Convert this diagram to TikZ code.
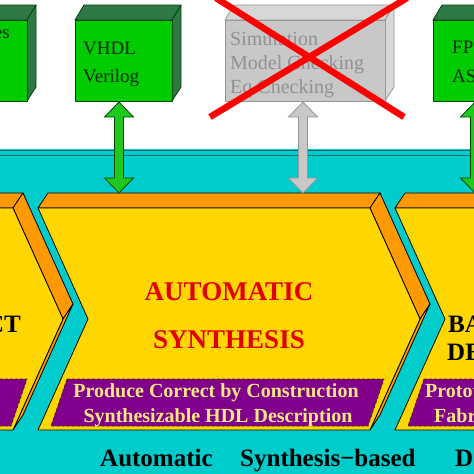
\documentclass[tikz,border=0pt]{standalone}
\usepackage{fontspec}
\setmainfont{Liberation Serif}
\definecolor{cyanbg}{RGB}{0,204,204}
\definecolor{bandline}{RGB}{0,110,110}
\definecolor{orangec}{RGB}{255,153,0}
\definecolor{yellowc}{RGB}{255,214,0}
\definecolor{purplec}{RGB}{128,0,140}
\definecolor{ptext}{RGB}{255,232,130}
\definecolor{gfront}{RGB}{0,204,0}
\definecolor{gdark}{RGB}{46,120,70}
\definecolor{gline}{RGB}{0,70,0}
\definecolor{grayfront}{RGB}{200,200,200}
\definecolor{graytop}{RGB}{215,215,215}
\definecolor{grayline}{RGB}{150,150,150}
\definecolor{graytext}{RGB}{145,145,145}
\definecolor{redx}{RGB}{255,0,0}
\definecolor{redlabel}{RGB}{225,0,0}
\definecolor{arrowgreen}{RGB}{30,200,30}
\definecolor{boxtext}{RGB}{0,40,0}
\newcommand{\dblarrow}[4]{%
  \draw[#4] (#1,#2) -- (#1+14.5,#2+15) -- (#1+4.5,#2+15) -- (#1+4.5,#3-15)
    -- (#1+14.5,#3-15) -- (#1,#3) -- (#1-14.5,#3-15) -- (#1-4.5,#3-15)
    -- (#1-4.5,#2+15) -- (#1-14.5,#2+15) -- cycle;}
\newcommand{\chevshape}[1]{%
  \begin{scope}[shift={(#1,0)}]
    \draw[orangeface] (38,208) -- (370,208) -- (380,193) -- (48,193) -- cycle;
    \draw[orangeface] (370,208) -- (420,319) -- (430,304) -- (380,193) -- cycle;
    \draw[orangeface] (420,319) -- (370,430) -- (380,415) -- (430,304) -- cycle;
    \draw[yellowface] (38,208) -- (370,208) -- (420,319) -- (370,430) -- (38,430) -- (88,319) -- cycle;
    \fill[purplec] (67,379) -- (384,379) -- (368,426) -- (51,426) -- cycle;
    \draw[purpleborder] (67,379) -- (384,379) -- (368,426) -- (51,426) -- cycle;
  \end{scope}}
\tikzset{
  orangeface/.style={fill=orangec, draw=black, line width=0.8, line join=round},
  yellowface/.style={fill=yellowc, draw=black, line width=0.8, line join=round},
  purpleborder/.style={draw=black!70!orange, line width=0.7, dash pattern=on 3pt off 2pt},
  gfrontst/.style={fill=gfront, draw=gline, line width=0.8, line join=round},
  gdarkst/.style={fill=gdark, draw=gline, line width=0.8, line join=round},
  grfrontst/.style={fill=grayfront, draw=grayline, line width=0.8, line join=round},
  grtopst/.style={fill=graytop, draw=grayline, line width=0.8, line join=round},
  boxlabel/.style={inner sep=0, anchor=base west, text=boxtext, font=\fontsize{19}{19}\selectfont},
  graylabel/.style={inner sep=0, anchor=base west, text=graytext, font=\fontsize{20}{20}\selectfont},
  biglabel/.style={inner sep=0, anchor=base, text=redlabel, font=\fontsize{27}{27}\selectfont\bfseries},
  blacklabel/.style={inner sep=0, text=black, font=\fontsize{25}{25}\selectfont\bfseries},
  plabel/.style={inner sep=0, text=ptext, font=\fontsize{20}{20}\selectfont\bfseries},
  greenarrow/.style={fill=arrowgreen, draw=gline, line width=0.8, line join=miter},
  grayarrow/.style={fill=grayfront, draw=grayline, line width=0.8, line join=miter},
  crossline/.style={draw=redx, line width=6.5}
}
\begin{document}
\begin{tikzpicture}[x=1pt,y=-1pt]
\useasboundingbox (0,0) rectangle (474,474);
\clip (0,0) rectangle (474,474);
\fill[white] (0,0) rectangle (474,474);
% cyan background with band lines
\fill[cyanbg] (0,149) rectangle (474,474);
\draw[bandline, line width=1.4] (0,150.3) -- (474,150.3);
\draw[bandline, line width=1.4] (0,155.2) -- (474,155.2);
% chevrons
\chevshape{-357}
\chevshape{0}
\chevshape{357}
% chevron labels
\node[blacklabel, anchor=base east] (lbl-left) at (21,332) {CORRECT};
\node[biglabel] (lbl-auto) at (229,300) {AUTOMATIC};
\node[biglabel] (lbl-synth) at (229,348) {SYNTHESIS};
\node[blacklabel, anchor=base west] (lbl-right1) at (448,332) {BACK-END};
\node[blacklabel, anchor=base west] (lbl-right2) at (447,360) {DESIGN};
\node[plabel, anchor=base] (p-mid1) at (216,397) {Produce Correct by Construction};
\node[plabel, anchor=base] (p-mid2) at (218,422) {Synthesizable HDL Description};
\node[plabel, anchor=base west] (p-right1) at (425,397) {Prototyping};
\node[plabel, anchor=base west] (p-right2) at (434,422) {Fabrication};
% bottom title
\node[blacklabel, anchor=base west] (t1) at (100,466) {Automatic};
\node[blacklabel, anchor=base west] (t2) at (240,466) {Synthesis−based};
\node[blacklabel, anchor=base west] (t3) at (455,466) {Design};
% arrows
\dblarrow{119}{102}{193}{greenarrow}
\dblarrow{303}{102}{193}{grayarrow}
\dblarrow{475}{102}{193}{greenarrow}
% left green box
\draw[gdarkst] (-60,20) -- (27,20) -- (36,5) -- (-51,5) -- cycle;
\draw[gdarkst] (27,20) -- (36,5) -- (36,87) -- (27,101) -- cycle;
\draw[gfrontst] (-60,20) rectangle (27,101);
\node[boxlabel, anchor=base east] (box-left) at (10,38) {Libraries};
% VHDL box
\draw[gdarkst] (75,20) -- (172,20) -- (181,5) -- (84,5) -- cycle;
\draw[gdarkst] (172,20) -- (181,5) -- (181,87) -- (172,101) -- cycle;
\draw[gfrontst] (75,20) rectangle (172,101);
\node[boxlabel] (vhdl) at (83,54) {VHDL};
\node[boxlabel] (verilog) at (83,82) {Verilog};
% gray box
\draw[grtopst] (225,20) -- (385,20) -- (394,5) -- (234,5) -- cycle;
\draw[grtopst] (385,20) -- (394,5) -- (394,87) -- (385,101) -- cycle;
\draw[grfrontst] (225,20) rectangle (385,101);
\node[graylabel] (sim) at (230,45) {Simulation};
\node[graylabel] (mc) at (230,69) {Model Checking};
\node[graylabel] (eq) at (230,93) {Eq Checking};
% FPGA box
\draw[gdarkst] (433,20) -- (520,20) -- (529,5) -- (442,5) -- cycle;
\draw[gfrontst] (433,20) rectangle (520,101);
\node[boxlabel] (fpga) at (452,53) {FPGA};
\node[boxlabel] (asic) at (452,82) {ASIC};
% red cross
\coordinate (x1a) at (216,-2);
\coordinate (x1b) at (404,117);
\coordinate (x2a) at (210,117);
\coordinate (x2b) at (407,-2);
\draw[crossline] (x1a) -- (x1b);
\draw[crossline] (x2a) -- (x2b);
\end{tikzpicture}
\end{document}
